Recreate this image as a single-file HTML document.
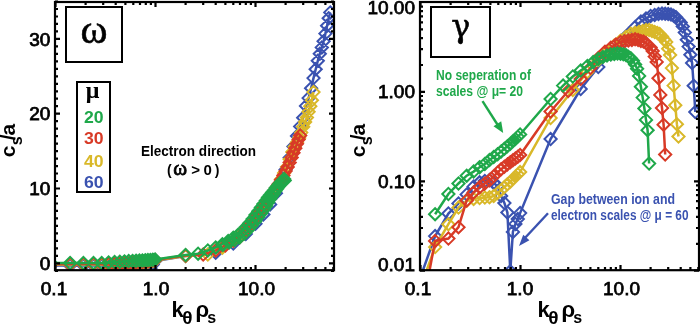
<!DOCTYPE html><html><head><meta charset="utf-8"><style>html,body{margin:0;padding:0;background:#fff;}svg{display:block;}</style></head><body><svg width="700" height="325" viewBox="0 0 700 325"><defs><clipPath id="cl"><rect x="55" y="2" width="279" height="268"/></clipPath><clipPath id="cr"><rect x="420" y="2" width="279" height="268"/></clipPath></defs><rect width="700" height="325" fill="#fff"/><g clip-path="url(#cl)" stroke="#3a52b0" fill="none" stroke-linejoin="miter"><path d="M15.7,265.5L50.9,265.5L70.1,265.5L83.4,265.5L93.5,265.5L101.7,265.5L108.6,265.5L114.6,266.1L119.8,266.7L124.5,267.6L128.7,268.7L132.6,269.0L136.1,269.0L139.4,269.0L142.4,269.0L145.3,269.0L147.9,269.0L150.4,268.3L152.8,264.5L155.1,261.0L185.6,256.0L215.7,252.8L233.3,243.6L245.8,234.0L255.5,223.8L263.4,214.5L270.1,204.4L275.9,193.2L281.0,182.1L285.6,169.8L289.7,157.8L293.5,146.4L297.0,136.0L300.2,126.4L303.2,117.7L306.0,105.9L308.6,98.1L311.1,88.2L313.5,78.1L315.7,69.2L317.8,60.7L319.8,53.8L321.8,47.4L323.6,41.3L325.4,33.6L327.1,25.7L328.7,18.2L330.3,12.4" stroke-width="2.5"/><path d="M9.6,265.5L15.7,259.4L21.8,265.5L15.7,271.6Z M44.8,265.5L50.9,259.4L57.0,265.5L50.9,271.6Z M64.0,265.5L70.1,259.4L76.2,265.5L70.1,271.6Z M77.3,265.5L83.4,259.4L89.5,265.5L83.4,271.6Z M87.4,265.5L93.5,259.4L99.6,265.5L93.5,271.6Z M95.6,265.5L101.7,259.4L107.8,265.5L101.7,271.6Z M102.5,265.5L108.6,259.4L114.7,265.5L108.6,271.6Z M108.5,266.1L114.6,260.0L120.7,266.1L114.6,272.2Z M113.7,266.7L119.8,260.6L125.9,266.7L119.8,272.8Z M118.4,267.6L124.5,261.5L130.6,267.6L124.5,273.7Z M122.6,268.7L128.7,262.6L134.8,268.7L128.7,274.8Z M126.5,269.0L132.6,262.9L138.7,269.0L132.6,275.1Z M130.0,269.0L136.1,262.9L142.2,269.0L136.1,275.1Z M133.3,269.0L139.4,262.9L145.5,269.0L139.4,275.1Z M136.3,269.0L142.4,262.9L148.5,269.0L142.4,275.1Z M139.2,269.0L145.3,262.9L151.4,269.0L145.3,275.1Z M141.8,269.0L147.9,262.9L154.0,269.0L147.9,275.1Z M144.3,268.3L150.4,262.2L156.5,268.3L150.4,274.4Z M146.7,264.5L152.8,258.4L158.9,264.5L152.8,270.6Z M149.0,261.0L155.1,254.9L161.2,261.0L155.1,267.1Z M179.5,256.0L185.6,249.9L191.7,256.0L185.6,262.1Z M209.6,252.8L215.7,246.7L221.8,252.8L215.7,258.9Z M227.2,243.6L233.3,237.5L239.4,243.6L233.3,249.7Z M239.7,234.0L245.8,227.9L251.9,234.0L245.8,240.1Z M249.4,223.8L255.5,217.7L261.6,223.8L255.5,229.9Z M257.3,214.5L263.4,208.4L269.5,214.5L263.4,220.6Z M264.0,204.4L270.1,198.3L276.2,204.4L270.1,210.5Z M269.8,193.2L275.9,187.1L282.0,193.2L275.9,199.3Z M274.9,182.1L281.0,176.0L287.1,182.1L281.0,188.2Z M279.5,169.8L285.6,163.7L291.7,169.8L285.6,175.9Z M283.6,157.8L289.7,151.7L295.8,157.8L289.7,163.9Z M287.4,146.4L293.5,140.3L299.6,146.4L293.5,152.5Z M290.9,136.0L297.0,129.9L303.1,136.0L297.0,142.1Z M294.1,126.4L300.2,120.3L306.3,126.4L300.2,132.5Z M297.1,117.7L303.2,111.6L309.3,117.7L303.2,123.8Z M299.9,105.9L306.0,99.8L312.1,105.9L306.0,112.0Z M302.5,98.1L308.6,92.0L314.7,98.1L308.6,104.2Z M305.0,88.2L311.1,82.1L317.2,88.2L311.1,94.3Z M307.4,78.1L313.5,72.0L319.6,78.1L313.5,84.2Z M309.6,69.2L315.7,63.1L321.8,69.2L315.7,75.3Z M311.7,60.7L317.8,54.6L323.9,60.7L317.8,66.8Z M313.7,53.8L319.8,47.7L325.9,53.8L319.8,59.9Z M315.7,47.4L321.8,41.3L327.9,47.4L321.8,53.5Z M317.5,41.3L323.6,35.2L329.7,41.3L323.6,47.4Z M319.3,33.6L325.4,27.5L331.5,33.6L325.4,39.7Z M321.0,25.7L327.1,19.6L333.2,25.7L327.1,31.8Z M322.6,18.2L328.7,12.1L334.8,18.2L328.7,24.3Z M324.2,12.4L330.3,6.3L336.4,12.4L330.3,18.5Z" stroke-width="2.0"/></g><g clip-path="url(#cl)" stroke="#d9b829" fill="none" stroke-linejoin="miter"><path d="M15.7,264.5L50.9,264.5L70.1,264.5L83.4,264.5L93.5,264.5L101.7,264.5L108.6,264.5L114.6,264.4L119.8,264.3L124.5,264.1L128.7,264.0L132.6,263.7L136.1,263.2L139.4,262.8L142.4,262.4L145.3,262.1L147.9,261.8L150.4,261.4L152.8,260.9L155.1,260.5L185.6,256.0L207.8,254.6L222.4,247.7L233.3,240.7L242.0,233.5L249.3,225.6L255.5,217.9L260.9,210.6L265.8,204.0L270.1,197.7L274.1,191.6L277.7,186.0L281.0,179.3L284.1,172.9L287.0,166.9L289.7,159.2L292.3,152.0L294.7,146.7L297.0,142.2L299.2,138.0L301.2,132.6L303.2,126.8L305.1,122.0L306.9,117.5L308.6,111.8L310.3,106.3L311.9,100.3L313.5,92.1" stroke-width="2.5"/><path d="M9.6,264.5L15.7,258.4L21.8,264.5L15.7,270.6Z M44.8,264.5L50.9,258.4L57.0,264.5L50.9,270.6Z M64.0,264.5L70.1,258.4L76.2,264.5L70.1,270.6Z M77.3,264.5L83.4,258.4L89.5,264.5L83.4,270.6Z M87.4,264.5L93.5,258.4L99.6,264.5L93.5,270.6Z M95.6,264.5L101.7,258.4L107.8,264.5L101.7,270.6Z M102.5,264.5L108.6,258.4L114.7,264.5L108.6,270.6Z M108.5,264.4L114.6,258.3L120.7,264.4L114.6,270.5Z M113.7,264.3L119.8,258.2L125.9,264.3L119.8,270.4Z M118.4,264.1L124.5,258.0L130.6,264.1L124.5,270.2Z M122.6,264.0L128.7,257.9L134.8,264.0L128.7,270.1Z M126.5,263.7L132.6,257.6L138.7,263.7L132.6,269.8Z M130.0,263.2L136.1,257.1L142.2,263.2L136.1,269.3Z M133.3,262.8L139.4,256.7L145.5,262.8L139.4,268.9Z M136.3,262.4L142.4,256.3L148.5,262.4L142.4,268.5Z M139.2,262.1L145.3,256.0L151.4,262.1L145.3,268.2Z M141.8,261.8L147.9,255.7L154.0,261.8L147.9,267.9Z M144.3,261.4L150.4,255.3L156.5,261.4L150.4,267.5Z M146.7,260.9L152.8,254.8L158.9,260.9L152.8,267.0Z M149.0,260.5L155.1,254.4L161.2,260.5L155.1,266.6Z M179.5,256.0L185.6,249.9L191.7,256.0L185.6,262.1Z M201.7,254.6L207.8,248.5L213.9,254.6L207.8,260.7Z M216.3,247.7L222.4,241.6L228.5,247.7L222.4,253.8Z M227.2,240.7L233.3,234.6L239.4,240.7L233.3,246.8Z M235.9,233.5L242.0,227.4L248.1,233.5L242.0,239.6Z M243.2,225.6L249.3,219.5L255.4,225.6L249.3,231.7Z M249.4,217.9L255.5,211.8L261.6,217.9L255.5,224.0Z M254.8,210.6L260.9,204.5L267.0,210.6L260.9,216.7Z M259.7,204.0L265.8,197.9L271.9,204.0L265.8,210.1Z M264.0,197.7L270.1,191.6L276.2,197.7L270.1,203.8Z M268.0,191.6L274.1,185.5L280.2,191.6L274.1,197.7Z M271.6,186.0L277.7,179.9L283.8,186.0L277.7,192.1Z M274.9,179.3L281.0,173.2L287.1,179.3L281.0,185.4Z M278.0,172.9L284.1,166.8L290.2,172.9L284.1,179.0Z M280.9,166.9L287.0,160.8L293.1,166.9L287.0,173.0Z M283.6,159.2L289.7,153.1L295.8,159.2L289.7,165.3Z M286.2,152.0L292.3,145.9L298.4,152.0L292.3,158.1Z M288.6,146.7L294.7,140.6L300.8,146.7L294.7,152.8Z M290.9,142.2L297.0,136.1L303.1,142.2L297.0,148.3Z M293.1,138.0L299.2,131.9L305.3,138.0L299.2,144.1Z M295.1,132.6L301.2,126.5L307.3,132.6L301.2,138.7Z M297.1,126.8L303.2,120.7L309.3,126.8L303.2,132.9Z M299.0,122.0L305.1,115.9L311.2,122.0L305.1,128.1Z M300.8,117.5L306.9,111.4L313.0,117.5L306.9,123.6Z M302.5,111.8L308.6,105.7L314.7,111.8L308.6,117.9Z M304.2,106.3L310.3,100.2L316.4,106.3L310.3,112.4Z M305.8,100.3L311.9,94.2L318.0,100.3L311.9,106.4Z M307.4,92.1L313.5,86.0L319.6,92.1L313.5,98.2Z" stroke-width="2.0"/></g><g clip-path="url(#cl)" stroke="#d83a26" fill="none" stroke-linejoin="miter"><path d="M15.7,264.0L50.9,264.0L70.1,264.0L83.4,264.0L93.5,264.0L101.7,264.0L108.6,264.0L114.6,263.9L119.8,263.8L124.5,263.6L128.7,263.5L132.6,263.2L136.1,262.7L139.4,262.3L142.4,261.9L145.3,261.6L147.9,261.3L150.4,260.9L152.8,260.4L155.1,260.0L185.6,255.5L203.2,254.6L215.7,250.4L225.4,245.4L233.3,240.8L240.0,237.0L245.8,230.3L250.9,224.3L255.5,218.1L259.6,212.5L263.4,206.9L266.9,201.7L270.1,196.8L273.1,192.3L275.9,188.1L278.5,184.2L281.0,180.0L283.4,175.4L285.6,171.1L287.7,166.9L289.7,162.4L291.7,157.4L293.5,152.7L295.3,148.2L297.0,143.8L298.6,139.6L300.2,135.5" stroke-width="2.5"/><path d="M9.6,264.0L15.7,257.9L21.8,264.0L15.7,270.1Z M44.8,264.0L50.9,257.9L57.0,264.0L50.9,270.1Z M64.0,264.0L70.1,257.9L76.2,264.0L70.1,270.1Z M77.3,264.0L83.4,257.9L89.5,264.0L83.4,270.1Z M87.4,264.0L93.5,257.9L99.6,264.0L93.5,270.1Z M95.6,264.0L101.7,257.9L107.8,264.0L101.7,270.1Z M102.5,264.0L108.6,257.9L114.7,264.0L108.6,270.1Z M108.5,263.9L114.6,257.8L120.7,263.9L114.6,270.0Z M113.7,263.8L119.8,257.7L125.9,263.8L119.8,269.9Z M118.4,263.6L124.5,257.5L130.6,263.6L124.5,269.7Z M122.6,263.5L128.7,257.4L134.8,263.5L128.7,269.6Z M126.5,263.2L132.6,257.1L138.7,263.2L132.6,269.3Z M130.0,262.7L136.1,256.6L142.2,262.7L136.1,268.8Z M133.3,262.3L139.4,256.2L145.5,262.3L139.4,268.4Z M136.3,261.9L142.4,255.8L148.5,261.9L142.4,268.0Z M139.2,261.6L145.3,255.5L151.4,261.6L145.3,267.7Z M141.8,261.3L147.9,255.2L154.0,261.3L147.9,267.4Z M144.3,260.9L150.4,254.8L156.5,260.9L150.4,267.0Z M146.7,260.4L152.8,254.3L158.9,260.4L152.8,266.5Z M149.0,260.0L155.1,253.9L161.2,260.0L155.1,266.1Z M179.5,255.5L185.6,249.4L191.7,255.5L185.6,261.6Z M197.1,254.6L203.2,248.5L209.3,254.6L203.2,260.7Z M209.6,250.4L215.7,244.3L221.8,250.4L215.7,256.5Z M219.3,245.4L225.4,239.3L231.5,245.4L225.4,251.5Z M227.2,240.8L233.3,234.7L239.4,240.8L233.3,246.9Z M233.9,237.0L240.0,230.9L246.1,237.0L240.0,243.1Z M239.7,230.3L245.8,224.2L251.9,230.3L245.8,236.4Z M244.8,224.3L250.9,218.2L257.0,224.3L250.9,230.4Z M249.4,218.1L255.5,212.0L261.6,218.1L255.5,224.2Z M253.5,212.5L259.6,206.4L265.7,212.5L259.6,218.6Z M257.3,206.9L263.4,200.8L269.5,206.9L263.4,213.0Z M260.8,201.7L266.9,195.6L273.0,201.7L266.9,207.8Z M264.0,196.8L270.1,190.7L276.2,196.8L270.1,202.9Z M267.0,192.3L273.1,186.2L279.2,192.3L273.1,198.4Z M269.8,188.1L275.9,182.0L282.0,188.1L275.9,194.2Z M272.4,184.2L278.5,178.1L284.6,184.2L278.5,190.3Z M274.9,180.0L281.0,173.9L287.1,180.0L281.0,186.1Z M277.3,175.4L283.4,169.3L289.5,175.4L283.4,181.5Z M279.5,171.1L285.6,165.0L291.7,171.1L285.6,177.2Z M281.6,166.9L287.7,160.8L293.8,166.9L287.7,173.0Z M283.6,162.4L289.7,156.3L295.8,162.4L289.7,168.5Z M285.6,157.4L291.7,151.3L297.8,157.4L291.7,163.5Z M287.4,152.7L293.5,146.6L299.6,152.7L293.5,158.8Z M289.2,148.2L295.3,142.1L301.4,148.2L295.3,154.3Z M290.9,143.8L297.0,137.7L303.1,143.8L297.0,149.9Z M292.5,139.6L298.6,133.5L304.7,139.6L298.6,145.7Z M294.1,135.5L300.2,129.4L306.3,135.5L300.2,141.6Z" stroke-width="2.0"/></g><g clip-path="url(#cl)" stroke="#1fa84a" fill="none" stroke-linejoin="miter"><path d="M15.7,263.0L50.9,263.0L70.1,263.0L83.4,263.0L93.5,263.0L101.7,262.9L108.6,262.4L114.6,262.0L119.8,261.7L124.5,261.4L128.7,261.1L132.6,260.9L136.1,260.7L139.4,260.5L142.4,260.4L145.3,260.2L147.9,260.1L150.4,260.0L152.8,259.7L155.1,259.5L185.6,255.0L198.1,253.7L207.8,250.5L215.7,247.4L222.4,244.2L228.2,241.0L233.3,237.8L237.9,234.9L242.0,231.3L245.8,227.1L249.3,223.3L252.5,219.1L255.5,215.0L258.3,211.2L260.9,207.5L263.4,204.0L265.8,200.6L268.0,197.5L270.1,194.9L272.1,192.4L274.1,190.1L275.9,187.8L277.7,185.6L279.4,183.6L281.0,182.0L282.6,180.4L284.1,179.0" stroke-width="2.5"/><path d="M9.6,263.0L15.7,256.9L21.8,263.0L15.7,269.1Z M44.8,263.0L50.9,256.9L57.0,263.0L50.9,269.1Z M64.0,263.0L70.1,256.9L76.2,263.0L70.1,269.1Z M77.3,263.0L83.4,256.9L89.5,263.0L83.4,269.1Z M87.4,263.0L93.5,256.9L99.6,263.0L93.5,269.1Z M95.6,262.9L101.7,256.8L107.8,262.9L101.7,269.0Z M102.5,262.4L108.6,256.3L114.7,262.4L108.6,268.5Z M108.5,262.0L114.6,255.9L120.7,262.0L114.6,268.1Z M113.7,261.7L119.8,255.6L125.9,261.7L119.8,267.8Z M118.4,261.4L124.5,255.3L130.6,261.4L124.5,267.5Z M122.6,261.1L128.7,255.0L134.8,261.1L128.7,267.2Z M126.5,260.9L132.6,254.8L138.7,260.9L132.6,267.0Z M130.0,260.7L136.1,254.6L142.2,260.7L136.1,266.8Z M133.3,260.5L139.4,254.4L145.5,260.5L139.4,266.6Z M136.3,260.4L142.4,254.3L148.5,260.4L142.4,266.5Z M139.2,260.2L145.3,254.1L151.4,260.2L145.3,266.3Z M141.8,260.1L147.9,254.0L154.0,260.1L147.9,266.2Z M144.3,260.0L150.4,253.9L156.5,260.0L150.4,266.1Z M146.7,259.7L152.8,253.6L158.9,259.7L152.8,265.8Z M149.0,259.5L155.1,253.4L161.2,259.5L155.1,265.6Z M179.5,255.0L185.6,248.9L191.7,255.0L185.6,261.1Z M192.0,253.7L198.1,247.6L204.2,253.7L198.1,259.8Z M201.7,250.5L207.8,244.4L213.9,250.5L207.8,256.6Z M209.6,247.4L215.7,241.3L221.8,247.4L215.7,253.5Z M216.3,244.2L222.4,238.1L228.5,244.2L222.4,250.3Z M222.1,241.0L228.2,234.9L234.3,241.0L228.2,247.1Z M227.2,237.8L233.3,231.7L239.4,237.8L233.3,243.9Z M231.8,234.9L237.9,228.8L244.0,234.9L237.9,241.0Z M235.9,231.3L242.0,225.2L248.1,231.3L242.0,237.4Z M239.7,227.1L245.8,221.0L251.9,227.1L245.8,233.2Z M243.2,223.3L249.3,217.2L255.4,223.3L249.3,229.4Z M246.4,219.1L252.5,213.0L258.6,219.1L252.5,225.2Z M249.4,215.0L255.5,208.9L261.6,215.0L255.5,221.1Z M252.2,211.2L258.3,205.1L264.4,211.2L258.3,217.3Z M254.8,207.5L260.9,201.4L267.0,207.5L260.9,213.6Z M257.3,204.0L263.4,197.9L269.5,204.0L263.4,210.1Z M259.7,200.6L265.8,194.5L271.9,200.6L265.8,206.7Z M261.9,197.5L268.0,191.4L274.1,197.5L268.0,203.6Z M264.0,194.9L270.1,188.8L276.2,194.9L270.1,201.0Z M266.0,192.4L272.1,186.3L278.2,192.4L272.1,198.5Z M268.0,190.1L274.1,184.0L280.2,190.1L274.1,196.2Z M269.8,187.8L275.9,181.7L282.0,187.8L275.9,193.9Z M271.6,185.6L277.7,179.5L283.8,185.6L277.7,191.7Z M273.3,183.6L279.4,177.5L285.5,183.6L279.4,189.7Z M274.9,182.0L281.0,175.9L287.1,182.0L281.0,188.1Z M276.5,180.4L282.6,174.3L288.7,180.4L282.6,186.5Z M278.0,179.0L284.1,172.9L290.2,179.0L284.1,185.1Z M209.6,247.5L215.7,241.4L221.8,247.5L215.7,253.6Z M216.8,245.1L222.9,239.0L229.0,245.1L222.9,251.2Z M223.0,242.6L229.1,236.5L235.2,242.6L229.1,248.7Z M228.6,240.0L234.7,233.9L240.8,240.0L234.7,246.1Z M233.5,237.6L239.6,231.5L245.7,237.6L239.6,243.7Z M238.5,233.6L244.6,227.5L250.7,233.6L244.6,239.7Z M242.3,229.5L248.4,223.4L254.5,229.5L248.4,235.6Z M245.8,225.6L251.9,219.5L258.0,225.6L251.9,231.7Z M249.2,221.2L255.3,215.1L261.4,221.2L255.3,227.3Z M252.2,217.1L258.3,211.0L264.4,217.1L258.3,223.2Z M255.1,213.2L261.2,207.1L267.3,213.2L261.2,219.3Z M257.7,209.5L263.8,203.4L269.9,209.5L263.8,215.6Z M260.0,205.9L266.1,199.8L272.2,205.9L266.1,212.0Z M262.1,202.3L268.2,196.2L274.3,202.3L268.2,208.4Z M264.0,199.1L270.1,193.0L276.2,199.1L270.1,205.2Z M265.8,196.3L271.9,190.2L278.0,196.3L271.9,202.4Z M267.6,193.7L273.7,187.6L279.8,193.7L273.7,199.8Z M269.3,191.1L275.4,185.0L281.5,191.1L275.4,197.2Z M271.0,188.7L277.1,182.6L283.2,188.7L277.1,194.8Z M272.7,186.6L278.8,180.5L284.9,186.6L278.8,192.7Z M274.4,184.6L280.5,178.5L286.6,184.6L280.5,190.7Z M276.0,183.0L282.1,176.9L288.2,183.0L282.1,189.1Z M277.6,181.5L283.7,175.4L289.8,181.5L283.7,187.6Z M278.6,180.4L284.7,174.3L290.8,180.4L284.7,186.5Z" stroke-width="2.0"/></g><g clip-path="url(#cr)" stroke="#3a52b0" fill="none" stroke-linejoin="miter"><path d="M380.7,290.0L415.9,290.0L435.1,236.1L448.4,213.5L458.5,203.4L466.7,194.4L473.6,186.6L479.6,182.3L484.8,181.0L489.5,180.1L493.7,183.0L497.6,186.2L501.1,196.0L504.4,203.0L507.4,212.5L510.3,271.2L512.9,231.9L515.4,223.9L517.8,219.0L520.1,213.1L550.6,139.0L580.7,89.0L598.3,67.0L610.8,54.0L620.5,45.0L628.4,34.0L635.1,27.1L640.9,21.5L646.0,18.4L650.6,15.9L654.7,14.9L658.5,14.1L662.0,13.6L665.2,13.7L668.2,13.9L671.0,14.5L673.6,15.8L676.1,17.2L678.5,19.9L680.7,22.5L682.8,26.5L684.8,32.5L686.8,39.7L688.6,46.6L690.4,54.8L692.1,63.0L693.7,85.7L695.3,112.0" stroke-width="2.5"/><path d="M374.6,290.0L380.7,283.9L386.8,290.0L380.7,296.1Z M409.8,290.0L415.9,283.9L422.0,290.0L415.9,296.1Z M429.0,236.1L435.1,230.0L441.2,236.1L435.1,242.2Z M442.3,213.5L448.4,207.4L454.5,213.5L448.4,219.6Z M452.4,203.4L458.5,197.3L464.6,203.4L458.5,209.5Z M460.6,194.4L466.7,188.3L472.8,194.4L466.7,200.5Z M467.5,186.6L473.6,180.5L479.7,186.6L473.6,192.7Z M473.5,182.3L479.6,176.2L485.7,182.3L479.6,188.4Z M478.7,181.0L484.8,174.9L490.9,181.0L484.8,187.1Z M483.4,180.1L489.5,174.0L495.6,180.1L489.5,186.2Z M487.6,183.0L493.7,176.9L499.8,183.0L493.7,189.1Z M491.5,186.2L497.6,180.1L503.7,186.2L497.6,192.3Z M495.0,196.0L501.1,189.9L507.2,196.0L501.1,202.1Z M498.3,203.0L504.4,196.9L510.5,203.0L504.4,209.1Z M501.3,212.5L507.4,206.4L513.5,212.5L507.4,218.6Z M504.2,271.2L510.3,265.1L516.4,271.2L510.3,277.3Z M506.8,231.9L512.9,225.8L519.0,231.9L512.9,238.0Z M509.3,223.9L515.4,217.8L521.5,223.9L515.4,230.0Z M511.7,219.0L517.8,212.9L523.9,219.0L517.8,225.1Z M514.0,213.1L520.1,207.0L526.2,213.1L520.1,219.2Z M544.5,139.0L550.6,132.9L556.7,139.0L550.6,145.1Z M574.6,89.0L580.7,82.9L586.8,89.0L580.7,95.1Z M592.2,67.0L598.3,60.9L604.4,67.0L598.3,73.1Z M604.7,54.0L610.8,47.9L616.9,54.0L610.8,60.1Z M614.4,45.0L620.5,38.9L626.6,45.0L620.5,51.1Z M622.3,34.0L628.4,27.9L634.5,34.0L628.4,40.1Z M629.0,27.1L635.1,21.0L641.2,27.1L635.1,33.2Z M634.8,21.5L640.9,15.4L647.0,21.5L640.9,27.6Z M639.9,18.4L646.0,12.3L652.1,18.4L646.0,24.5Z M644.5,15.9L650.6,9.8L656.7,15.9L650.6,22.0Z M648.6,14.9L654.7,8.8L660.8,14.9L654.7,21.0Z M652.4,14.1L658.5,8.0L664.6,14.1L658.5,20.2Z M655.9,13.6L662.0,7.5L668.1,13.6L662.0,19.7Z M659.1,13.7L665.2,7.6L671.3,13.7L665.2,19.8Z M662.1,13.9L668.2,7.8L674.3,13.9L668.2,20.0Z M664.9,14.5L671.0,8.4L677.1,14.5L671.0,20.6Z M667.5,15.8L673.6,9.7L679.7,15.8L673.6,21.9Z M670.0,17.2L676.1,11.1L682.2,17.2L676.1,23.3Z M672.4,19.9L678.5,13.8L684.6,19.9L678.5,26.0Z M674.6,22.5L680.7,16.4L686.8,22.5L680.7,28.6Z M676.7,26.5L682.8,20.4L688.9,26.5L682.8,32.6Z M678.7,32.5L684.8,26.4L690.9,32.5L684.8,38.6Z M680.7,39.7L686.8,33.6L692.9,39.7L686.8,45.8Z M682.5,46.6L688.6,40.5L694.7,46.6L688.6,52.7Z M684.3,54.8L690.4,48.7L696.5,54.8L690.4,60.9Z M686.0,63.0L692.1,56.9L698.2,63.0L692.1,69.1Z M687.6,85.7L693.7,79.6L699.8,85.7L693.7,91.8Z M689.2,112.0L695.3,105.9L701.4,112.0L695.3,118.1Z" stroke-width="2.0"/></g><g clip-path="url(#cr)" stroke="#d9b829" fill="none" stroke-linejoin="miter"><path d="M380.7,300.0L415.9,300.0L435.1,247.1L448.4,224.2L458.5,207.6L466.7,200.8L473.6,198.9L479.6,198.1L484.8,197.6L489.5,197.2L493.7,196.0L497.6,192.9L501.1,190.0L504.4,187.1L507.4,184.3L510.3,181.7L512.9,179.1L515.4,176.6L517.8,174.3L520.1,172.0L550.6,118.0L572.8,90.0L587.4,72.0L598.3,60.0L607.0,52.0L614.3,45.5L620.5,40.8L625.9,36.9L630.8,33.8L635.1,32.8L639.1,31.8L642.7,30.9L646.0,30.1L649.1,30.0L652.0,31.1L654.7,32.1L657.3,33.0L659.7,33.9L662.0,36.6L664.2,39.4L666.2,42.1L668.2,48.7L670.1,55.0L671.9,68.1L673.6,85.6L675.3,105.2L676.9,124.2L678.5,136.5" stroke-width="2.5"/><path d="M374.6,300.0L380.7,293.9L386.8,300.0L380.7,306.1Z M409.8,300.0L415.9,293.9L422.0,300.0L415.9,306.1Z M429.0,247.1L435.1,241.0L441.2,247.1L435.1,253.2Z M442.3,224.2L448.4,218.1L454.5,224.2L448.4,230.3Z M452.4,207.6L458.5,201.5L464.6,207.6L458.5,213.7Z M460.6,200.8L466.7,194.7L472.8,200.8L466.7,206.9Z M467.5,198.9L473.6,192.8L479.7,198.9L473.6,205.0Z M473.5,198.1L479.6,192.0L485.7,198.1L479.6,204.2Z M478.7,197.6L484.8,191.5L490.9,197.6L484.8,203.7Z M483.4,197.2L489.5,191.1L495.6,197.2L489.5,203.3Z M487.6,196.0L493.7,189.9L499.8,196.0L493.7,202.1Z M491.5,192.9L497.6,186.8L503.7,192.9L497.6,199.0Z M495.0,190.0L501.1,183.9L507.2,190.0L501.1,196.1Z M498.3,187.1L504.4,181.0L510.5,187.1L504.4,193.2Z M501.3,184.3L507.4,178.2L513.5,184.3L507.4,190.4Z M504.2,181.7L510.3,175.6L516.4,181.7L510.3,187.8Z M506.8,179.1L512.9,173.0L519.0,179.1L512.9,185.2Z M509.3,176.6L515.4,170.5L521.5,176.6L515.4,182.7Z M511.7,174.3L517.8,168.2L523.9,174.3L517.8,180.4Z M514.0,172.0L520.1,165.9L526.2,172.0L520.1,178.1Z M544.5,118.0L550.6,111.9L556.7,118.0L550.6,124.1Z M566.7,90.0L572.8,83.9L578.9,90.0L572.8,96.1Z M581.3,72.0L587.4,65.9L593.5,72.0L587.4,78.1Z M592.2,60.0L598.3,53.9L604.4,60.0L598.3,66.1Z M600.9,52.0L607.0,45.9L613.1,52.0L607.0,58.1Z M608.2,45.5L614.3,39.4L620.4,45.5L614.3,51.6Z M614.4,40.8L620.5,34.7L626.6,40.8L620.5,46.9Z M619.8,36.9L625.9,30.8L632.0,36.9L625.9,43.0Z M624.7,33.8L630.8,27.7L636.9,33.8L630.8,39.9Z M629.0,32.8L635.1,26.7L641.2,32.8L635.1,38.9Z M633.0,31.8L639.1,25.7L645.2,31.8L639.1,37.9Z M636.6,30.9L642.7,24.8L648.8,30.9L642.7,37.0Z M639.9,30.1L646.0,24.0L652.1,30.1L646.0,36.2Z M643.0,30.0L649.1,23.9L655.2,30.0L649.1,36.1Z M645.9,31.1L652.0,25.0L658.1,31.1L652.0,37.2Z M648.6,32.1L654.7,26.0L660.8,32.1L654.7,38.2Z M651.2,33.0L657.3,26.9L663.4,33.0L657.3,39.1Z M653.6,33.9L659.7,27.8L665.8,33.9L659.7,40.0Z M655.9,36.6L662.0,30.5L668.1,36.6L662.0,42.7Z M658.1,39.4L664.2,33.3L670.3,39.4L664.2,45.5Z M660.1,42.1L666.2,36.0L672.3,42.1L666.2,48.2Z M662.1,48.7L668.2,42.6L674.3,48.7L668.2,54.8Z M664.0,55.0L670.1,48.9L676.2,55.0L670.1,61.1Z M665.8,68.1L671.9,62.0L678.0,68.1L671.9,74.2Z M667.5,85.6L673.6,79.5L679.7,85.6L673.6,91.7Z M669.2,105.2L675.3,99.1L681.4,105.2L675.3,111.3Z M670.8,124.2L676.9,118.1L683.0,124.2L676.9,130.3Z M672.4,136.5L678.5,130.4L684.6,136.5L678.5,142.6Z" stroke-width="2.0"/></g><g clip-path="url(#cr)" stroke="#d83a26" fill="none" stroke-linejoin="miter"><path d="M380.7,343.0L415.9,343.0L435.1,240.9L448.4,238.6L458.5,227.2L466.7,200.4L473.6,192.5L479.6,187.3L484.8,183.6L489.5,180.3L493.7,176.3L497.6,172.4L501.1,169.2L504.4,166.7L507.4,164.4L510.3,162.3L512.9,160.3L515.4,158.5L517.8,156.7L520.1,155.0L550.6,111.5L568.2,91.0L580.7,79.0L590.4,68.0L598.3,58.0L605.0,51.8L610.8,47.7L615.9,44.5L620.5,41.9L624.6,41.2L628.4,40.5L631.9,39.9L635.1,39.3L638.1,40.1L640.9,40.9L643.5,41.6L646.0,43.0L648.4,45.4L650.6,47.6L652.7,51.0L654.7,56.6L656.7,61.9L658.5,78.2L660.3,94.9L662.0,108.0L663.6,124.7L665.2,154.5" stroke-width="2.5"/><path d="M374.6,343.0L380.7,336.9L386.8,343.0L380.7,349.1Z M409.8,343.0L415.9,336.9L422.0,343.0L415.9,349.1Z M429.0,240.9L435.1,234.8L441.2,240.9L435.1,247.0Z M442.3,238.6L448.4,232.5L454.5,238.6L448.4,244.7Z M452.4,227.2L458.5,221.1L464.6,227.2L458.5,233.3Z M460.6,200.4L466.7,194.3L472.8,200.4L466.7,206.5Z M467.5,192.5L473.6,186.4L479.7,192.5L473.6,198.6Z M473.5,187.3L479.6,181.2L485.7,187.3L479.6,193.4Z M478.7,183.6L484.8,177.5L490.9,183.6L484.8,189.7Z M483.4,180.3L489.5,174.2L495.6,180.3L489.5,186.4Z M487.6,176.3L493.7,170.2L499.8,176.3L493.7,182.4Z M491.5,172.4L497.6,166.3L503.7,172.4L497.6,178.5Z M495.0,169.2L501.1,163.1L507.2,169.2L501.1,175.3Z M498.3,166.7L504.4,160.6L510.5,166.7L504.4,172.8Z M501.3,164.4L507.4,158.3L513.5,164.4L507.4,170.5Z M504.2,162.3L510.3,156.2L516.4,162.3L510.3,168.4Z M506.8,160.3L512.9,154.2L519.0,160.3L512.9,166.4Z M509.3,158.5L515.4,152.4L521.5,158.5L515.4,164.6Z M511.7,156.7L517.8,150.6L523.9,156.7L517.8,162.8Z M514.0,155.0L520.1,148.9L526.2,155.0L520.1,161.1Z M544.5,111.5L550.6,105.4L556.7,111.5L550.6,117.6Z M562.1,91.0L568.2,84.9L574.3,91.0L568.2,97.1Z M574.6,79.0L580.7,72.9L586.8,79.0L580.7,85.1Z M584.3,68.0L590.4,61.9L596.5,68.0L590.4,74.1Z M592.2,58.0L598.3,51.9L604.4,58.0L598.3,64.1Z M598.9,51.8L605.0,45.7L611.1,51.8L605.0,57.9Z M604.7,47.7L610.8,41.6L616.9,47.7L610.8,53.8Z M609.8,44.5L615.9,38.4L622.0,44.5L615.9,50.6Z M614.4,41.9L620.5,35.8L626.6,41.9L620.5,48.0Z M618.5,41.2L624.6,35.1L630.7,41.2L624.6,47.3Z M622.3,40.5L628.4,34.4L634.5,40.5L628.4,46.6Z M625.8,39.9L631.9,33.8L638.0,39.9L631.9,46.0Z M629.0,39.3L635.1,33.2L641.2,39.3L635.1,45.4Z M632.0,40.1L638.1,34.0L644.2,40.1L638.1,46.2Z M634.8,40.9L640.9,34.8L647.0,40.9L640.9,47.0Z M637.4,41.6L643.5,35.5L649.6,41.6L643.5,47.7Z M639.9,43.0L646.0,36.9L652.1,43.0L646.0,49.1Z M642.3,45.4L648.4,39.3L654.5,45.4L648.4,51.5Z M644.5,47.6L650.6,41.5L656.7,47.6L650.6,53.7Z M646.6,51.0L652.7,44.9L658.8,51.0L652.7,57.1Z M648.6,56.6L654.7,50.5L660.8,56.6L654.7,62.7Z M650.6,61.9L656.7,55.8L662.8,61.9L656.7,68.0Z M652.4,78.2L658.5,72.1L664.6,78.2L658.5,84.3Z M654.2,94.9L660.3,88.8L666.4,94.9L660.3,101.0Z M655.9,108.0L662.0,101.9L668.1,108.0L662.0,114.1Z M657.5,124.7L663.6,118.6L669.7,124.7L663.6,130.8Z M659.1,154.5L665.2,148.4L671.3,154.5L665.2,160.6Z" stroke-width="2.0"/></g><g clip-path="url(#cr)" stroke="#1fa84a" fill="none" stroke-linejoin="miter"><path d="M435.1,214.2L448.4,194.0L458.5,183.5L466.7,175.7L473.6,171.6L479.6,167.2L484.8,164.0L489.5,159.9L493.7,156.9L497.6,154.2L501.1,151.5L504.4,148.8L507.4,146.2L510.3,143.8L512.9,141.2L515.4,138.9L517.8,136.7L520.1,134.5L550.6,99.0L563.1,85.6L572.8,76.5L580.7,70.5L587.4,66.0L593.2,62.1L598.3,59.0L602.9,57.0L607.0,55.5L610.8,54.4L614.3,53.9L617.5,53.4L620.5,53.7L623.3,54.2L625.9,55.1L628.4,56.7L630.8,58.2L633.0,60.7L635.1,64.5L637.1,68.8L639.1,75.9L640.9,86.7L642.7,97.6L644.4,108.5L646.0,119.9L647.6,130.2L649.1,163.5" stroke-width="2.5"/><path d="M429.0,214.2L435.1,208.1L441.2,214.2L435.1,220.3Z M442.3,194.0L448.4,187.9L454.5,194.0L448.4,200.1Z M452.4,183.5L458.5,177.4L464.6,183.5L458.5,189.6Z M460.6,175.7L466.7,169.6L472.8,175.7L466.7,181.8Z M467.5,171.6L473.6,165.5L479.7,171.6L473.6,177.7Z M473.5,167.2L479.6,161.1L485.7,167.2L479.6,173.3Z M478.7,164.0L484.8,157.9L490.9,164.0L484.8,170.1Z M483.4,159.9L489.5,153.8L495.6,159.9L489.5,166.0Z M487.6,156.9L493.7,150.8L499.8,156.9L493.7,163.0Z M491.5,154.2L497.6,148.1L503.7,154.2L497.6,160.3Z M495.0,151.5L501.1,145.4L507.2,151.5L501.1,157.6Z M498.3,148.8L504.4,142.7L510.5,148.8L504.4,154.9Z M501.3,146.2L507.4,140.1L513.5,146.2L507.4,152.3Z M504.2,143.8L510.3,137.7L516.4,143.8L510.3,149.9Z M506.8,141.2L512.9,135.1L519.0,141.2L512.9,147.3Z M509.3,138.9L515.4,132.8L521.5,138.9L515.4,145.0Z M511.7,136.7L517.8,130.6L523.9,136.7L517.8,142.8Z M514.0,134.5L520.1,128.4L526.2,134.5L520.1,140.6Z M544.5,99.0L550.6,92.9L556.7,99.0L550.6,105.1Z M557.0,85.6L563.1,79.5L569.2,85.6L563.1,91.7Z M566.7,76.5L572.8,70.4L578.9,76.5L572.8,82.6Z M574.6,70.5L580.7,64.4L586.8,70.5L580.7,76.6Z M581.3,66.0L587.4,59.9L593.5,66.0L587.4,72.1Z M587.1,62.1L593.2,56.0L599.3,62.1L593.2,68.2Z M592.2,59.0L598.3,52.9L604.4,59.0L598.3,65.1Z M596.8,57.0L602.9,50.9L609.0,57.0L602.9,63.1Z M600.9,55.5L607.0,49.4L613.1,55.5L607.0,61.6Z M604.7,54.4L610.8,48.3L616.9,54.4L610.8,60.5Z M608.2,53.9L614.3,47.8L620.4,53.9L614.3,60.0Z M611.4,53.4L617.5,47.3L623.6,53.4L617.5,59.5Z M614.4,53.7L620.5,47.6L626.6,53.7L620.5,59.8Z M617.2,54.2L623.3,48.1L629.4,54.2L623.3,60.3Z M619.8,55.1L625.9,49.0L632.0,55.1L625.9,61.2Z M622.3,56.7L628.4,50.6L634.5,56.7L628.4,62.8Z M624.7,58.2L630.8,52.1L636.9,58.2L630.8,64.3Z M626.9,60.7L633.0,54.6L639.1,60.7L633.0,66.8Z M629.0,64.5L635.1,58.4L641.2,64.5L635.1,70.6Z M631.0,68.8L637.1,62.7L643.2,68.8L637.1,74.9Z M633.0,75.9L639.1,69.8L645.2,75.9L639.1,82.0Z M634.8,86.7L640.9,80.6L647.0,86.7L640.9,92.8Z M636.6,97.6L642.7,91.5L648.8,97.6L642.7,103.7Z M638.3,108.5L644.4,102.4L650.5,108.5L644.4,114.6Z M639.9,119.9L646.0,113.8L652.1,119.9L646.0,126.0Z M641.5,130.2L647.6,124.1L653.7,130.2L647.6,136.3Z M643.0,163.5L649.1,157.4L655.2,163.5L649.1,169.6Z" stroke-width="2.0"/></g><path d="M55.5,270v-5M55.5,2v5M85.6,270v-3M85.6,2v3M103.2,270v-3M103.2,2v3M115.7,270v-3M115.7,2v3M125.4,270v-3M125.4,2v3M133.3,270v-3M133.3,2v3M140.0,270v-3M140.0,2v3M145.8,270v-3M145.8,2v3M150.9,270v-3M150.9,2v3M155.5,270v-5M155.5,2v5M185.6,270v-3M185.6,2v3M203.2,270v-3M203.2,2v3M215.7,270v-3M215.7,2v3M225.4,270v-3M225.4,2v3M233.3,270v-3M233.3,2v3M240.0,270v-3M240.0,2v3M245.8,270v-3M245.8,2v3M250.9,270v-3M250.9,2v3M255.5,270v-5M255.5,2v5M285.6,270v-3M285.6,2v3M303.2,270v-3M303.2,2v3M315.7,270v-3M315.7,2v3M325.4,270v-3M325.4,2v3M333.3,270v-3M333.3,2v3M55,270.8h3M334,270.8h-3M55,263.3h5M334,263.3h-5M55,255.8h3M334,255.8h-3M55,248.3h3M334,248.3h-3M55,240.9h3M334,240.9h-3M55,233.4h3M334,233.4h-3M55,225.9h3M334,225.9h-3M55,218.4h3M334,218.4h-3M55,210.9h3M334,210.9h-3M55,203.5h3M334,203.5h-3M55,196.0h3M334,196.0h-3M55,188.5h5M334,188.5h-5M55,181.0h3M334,181.0h-3M55,173.5h3M334,173.5h-3M55,166.1h3M334,166.1h-3M55,158.6h3M334,158.6h-3M55,151.1h3M334,151.1h-3M55,143.6h3M334,143.6h-3M55,136.1h3M334,136.1h-3M55,128.7h3M334,128.7h-3M55,121.2h3M334,121.2h-3M55,113.7h5M334,113.7h-5M55,106.2h3M334,106.2h-3M55,98.7h3M334,98.7h-3M55,91.3h3M334,91.3h-3M55,83.8h3M334,83.8h-3M55,76.3h3M334,76.3h-3M55,68.8h3M334,68.8h-3M55,61.3h3M334,61.3h-3M55,53.9h3M334,53.9h-3M55,46.4h3M334,46.4h-3M55,38.9h5M334,38.9h-5M55,31.4h3M334,31.4h-3M55,23.9h3M334,23.9h-3M55,16.5h3M334,16.5h-3M55,9.0h3M334,9.0h-3M55,1.5h3M334,1.5h-3" stroke="#000" stroke-width="2.2" fill="none"/><rect x="55" y="2" width="279" height="268.2" fill="none" stroke="#000" stroke-width="2.2"/><path d="M420.5,270v-5M420.5,2v5M450.6,270v-3M450.6,2v3M468.2,270v-3M468.2,2v3M480.7,270v-3M480.7,2v3M490.4,270v-3M490.4,2v3M498.3,270v-3M498.3,2v3M505.0,270v-3M505.0,2v3M510.8,270v-3M510.8,2v3M515.9,270v-3M515.9,2v3M520.5,270v-5M520.5,2v5M550.6,270v-3M550.6,2v3M568.2,270v-3M568.2,2v3M580.7,270v-3M580.7,2v3M590.4,270v-3M590.4,2v3M598.3,270v-3M598.3,2v3M605.0,270v-3M605.0,2v3M610.8,270v-3M610.8,2v3M615.9,270v-3M615.9,2v3M620.5,270v-5M620.5,2v5M650.6,270v-3M650.6,2v3M668.2,270v-3M668.2,2v3M680.7,270v-3M680.7,2v3M690.4,270v-3M690.4,2v3M698.3,270v-3M698.3,2v3M420,270.7h5M699,270.7h-5M420,243.8h3M699,243.8h-3M420,228.0h3M699,228.0h-3M420,216.9h3M699,216.9h-3M420,208.2h3M699,208.2h-3M420,201.1h3M699,201.1h-3M420,195.1h3M699,195.1h-3M420,190.0h3M699,190.0h-3M420,185.4h3M699,185.4h-3M420,181.3h5M699,181.3h-5M420,154.4h3M699,154.4h-3M420,138.6h3M699,138.6h-3M420,127.5h3M699,127.5h-3M420,118.8h3M699,118.8h-3M420,111.7h3M699,111.7h-3M420,105.7h3M699,105.7h-3M420,100.6h3M699,100.6h-3M420,96.0h3M699,96.0h-3M420,91.9h5M699,91.9h-5M420,65.0h3M699,65.0h-3M420,49.2h3M699,49.2h-3M420,38.1h3M699,38.1h-3M420,29.4h3M699,29.4h-3M420,22.3h3M699,22.3h-3M420,16.3h3M699,16.3h-3M420,11.2h3M699,11.2h-3M420,6.6h3M699,6.6h-3" stroke="#000" stroke-width="2.2" fill="none"/><rect x="420" y="2" width="279" height="268.2" fill="none" stroke="#000" stroke-width="2.2"/><text x="50.3" y="45.8" text-anchor="end" font-family="Liberation Sans, Arial, sans-serif" font-size="19" fill="#000" stroke="#000" stroke-width="0.75">30</text><text x="50.3" y="120.2" text-anchor="end" font-family="Liberation Sans, Arial, sans-serif" font-size="19" fill="#000" stroke="#000" stroke-width="0.75">20</text><text x="50.3" y="195.2" text-anchor="end" font-family="Liberation Sans, Arial, sans-serif" font-size="19" fill="#000" stroke="#000" stroke-width="0.75">10</text><text x="50.3" y="269.8" text-anchor="end" font-family="Liberation Sans, Arial, sans-serif" font-size="19" fill="#000" stroke="#000" stroke-width="0.75">0</text><text x="415" y="13.6" text-anchor="end" font-family="Liberation Sans, Arial, sans-serif" font-size="19" fill="#000" stroke="#000" stroke-width="0.75">10.00</text><text x="415" y="98.4" text-anchor="end" font-family="Liberation Sans, Arial, sans-serif" font-size="19" fill="#000" stroke="#000" stroke-width="0.75">1.00</text><text x="415" y="188" text-anchor="end" font-family="Liberation Sans, Arial, sans-serif" font-size="19" fill="#000" stroke="#000" stroke-width="0.75">0.10</text><text x="415" y="270.8" text-anchor="end" font-family="Liberation Sans, Arial, sans-serif" font-size="19" fill="#000" stroke="#000" stroke-width="0.75">0.01</text><text x="54" y="295.2" text-anchor="middle" font-family="Liberation Sans, Arial, sans-serif" font-size="19" fill="#000" stroke="#000" stroke-width="0.75">0.1</text><text x="156" y="295.2" text-anchor="middle" font-family="Liberation Sans, Arial, sans-serif" font-size="19" fill="#000" stroke="#000" stroke-width="0.75">1.0</text><text x="256.5" y="295.2" text-anchor="middle" font-family="Liberation Sans, Arial, sans-serif" font-size="19" fill="#000" stroke="#000" stroke-width="0.75">10.0</text><text x="418" y="295.2" text-anchor="middle" font-family="Liberation Sans, Arial, sans-serif" font-size="19" fill="#000" stroke="#000" stroke-width="0.75">0.1</text><text x="520" y="295.2" text-anchor="middle" font-family="Liberation Sans, Arial, sans-serif" font-size="19" fill="#000" stroke="#000" stroke-width="0.75">1.0</text><text x="621.5" y="295.2" text-anchor="middle" font-family="Liberation Sans, Arial, sans-serif" font-size="19" fill="#000" stroke="#000" stroke-width="0.75">10.0</text><text font-family="Liberation Sans, Arial, sans-serif" font-weight="bold" fill="#000" font-size="22"><tspan x="171.4" y="317">k</tspan><tspan x="182.3" y="324" font-size="19">θ</tspan><tspan x="195.6" y="317">ρ</tspan><tspan x="207.3" y="323.3" font-size="16">s</tspan></text><text font-family="Liberation Sans, Arial, sans-serif" font-weight="bold" fill="#000" font-size="22"><tspan x="537.4" y="317">k</tspan><tspan x="548.3" y="324" font-size="19">θ</tspan><tspan x="561.6" y="317">ρ</tspan><tspan x="573.3" y="323.3" font-size="16">s</tspan></text><text transform="translate(14.5,157.3) rotate(-90)" font-family="Liberation Sans, Arial, sans-serif" font-weight="bold" fill="#000" font-size="21"><tspan x="0" y="0">c</tspan><tspan x="12" y="7" font-size="16">s</tspan><tspan x="17.1" y="0">/</tspan><tspan x="21.9" y="0">a</tspan></text><text transform="translate(365,157.3) rotate(-90)" font-family="Liberation Sans, Arial, sans-serif" font-weight="bold" fill="#000" font-size="21"><tspan x="0" y="0">c</tspan><tspan x="12" y="7" font-size="16">s</tspan><tspan x="17.1" y="0">/</tspan><tspan x="21.9" y="0">a</tspan></text><rect x="66" y="7" width="56" height="55" fill="#fff" stroke="#000" stroke-width="2"/><text x="80.5" y="42.6" font-family="Liberation Serif, serif" font-size="41" fill="#000" stroke="#000" stroke-width="0.6">ω</text><rect x="431" y="7" width="59" height="50" fill="#fff" stroke="#000" stroke-width="2"/><text x="451.3" y="37.2" font-family="DejaVu Serif, serif" font-size="32" fill="#000" stroke="#000" stroke-width="0.5">γ</text><rect x="77" y="82" width="33" height="110" fill="#fff" stroke="#000" stroke-width="2"/><text x="92.6" y="97.5" text-anchor="middle" font-family="Liberation Serif, serif" font-weight="bold" font-size="24" fill="#000">μ</text><text x="84" y="122.5" font-family="Liberation Sans, Arial, sans-serif" font-weight="bold" font-size="16" fill="#1fa84a" textLength="19.6" lengthAdjust="spacingAndGlyphs">20</text><text x="84" y="144" font-family="Liberation Sans, Arial, sans-serif" font-weight="bold" font-size="16" fill="#d83a26" textLength="19.6" lengthAdjust="spacingAndGlyphs">30</text><text x="84" y="166.5" font-family="Liberation Sans, Arial, sans-serif" font-weight="bold" font-size="16" fill="#d9b829" textLength="19.6" lengthAdjust="spacingAndGlyphs">40</text><text x="84" y="187.5" font-family="Liberation Sans, Arial, sans-serif" font-weight="bold" font-size="16" fill="#3a52b0" textLength="19.6" lengthAdjust="spacingAndGlyphs">60</text><text x="141" y="156" font-family="Liberation Sans, Arial, sans-serif" font-weight="bold" font-size="14" fill="#000" textLength="115" lengthAdjust="spacingAndGlyphs">Electron direction</text><text x="167" y="175.3" font-family="Liberation Sans, Arial, sans-serif" font-weight="bold" font-size="14" fill="#000">(</text><text x="191.3" y="175.3" font-family="Liberation Sans, Arial, sans-serif" font-weight="bold" font-size="15" fill="#000">&gt;</text><text x="203.6" y="175.3" font-family="Liberation Sans, Arial, sans-serif" font-weight="bold" font-size="15" fill="#000">0</text><text x="214.7" y="175.3" font-family="Liberation Sans, Arial, sans-serif" font-weight="bold" font-size="14" fill="#000">)</text><text x="173.3" y="175.2" font-family="Liberation Serif, serif" font-size="21" fill="#000" stroke="#000" stroke-width="0.8">ω</text><text x="436" y="79.5" font-family="Liberation Sans, Arial, sans-serif" font-weight="bold" font-size="14" fill="#1fa84a" textLength="95" lengthAdjust="spacingAndGlyphs">No seperation of</text><text x="436" y="96" font-family="Liberation Sans, Arial, sans-serif" font-weight="bold" font-size="14" fill="#1fa84a" textLength="87" lengthAdjust="spacingAndGlyphs">scales @ μ= 20</text><text x="551" y="203.6" font-family="Liberation Sans, Arial, sans-serif" font-weight="bold" font-size="14" fill="#3a52b0" textLength="124" lengthAdjust="spacingAndGlyphs">Gap between ion and</text><text x="551" y="220.3" font-family="Liberation Sans, Arial, sans-serif" font-weight="bold" font-size="14" fill="#3a52b0" textLength="137.5" lengthAdjust="spacingAndGlyphs">electron scales @ μ = 60</text><path d="M482.5,101.2L499,127" stroke="#1fa84a" stroke-width="2.4"/><path d="M503.2,133.1L493.5,126.2L501.2,121.3Z" fill="#1fa84a"/><path d="M548,213.3L524,239" stroke="#3a52b0" stroke-width="2.4"/><path d="M519,245.9L523.2,234.8L529.4,240.3Z" fill="#3a52b0"/></svg></body></html>
